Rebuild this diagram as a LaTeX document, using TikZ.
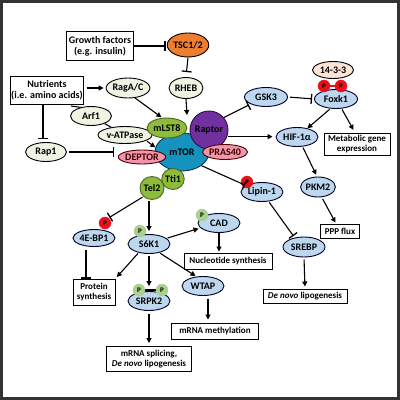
\documentclass[tikz,border=0pt]{standalone}
\usepackage{fontspec}
\setmainfont{Carlito}
\usetikzlibrary{shapes.geometric,arrows.meta}
\definecolor{lgreen}{HTML}{EEF3E2}
\definecolor{lblue}{HTML}{BDD7EE}
\definecolor{mgreen}{HTML}{8DBB3A}
\definecolor{dgreen}{HTML}{4F6228}
\definecolor{tsco}{HTML}{ED7D31}
\definecolor{rapt}{HTML}{7030A0}
\definecolor{mtorc}{HTML}{1592BE}
\definecolor{pinkc}{HTML}{F095AA}
\definecolor{peach}{HTML}{FCE4D6}
\definecolor{pred}{HTML}{E8101A}
\definecolor{pgreen}{HTML}{A9D18E}
\definecolor{framec}{HTML}{333333}
\begin{document}
\begin{tikzpicture}[x=1pt,y=-1pt,
  font=\bfseries\fontsize{10}{11}\selectfont,
  el/.style={ellipse,draw=black,line width=0.9pt,inner sep=0pt},
  lg/.style={el,fill=lgreen},
  bl/.style={el,fill=lblue,draw=black!85!blue},
  gr/.style={el,fill=mgreen,draw=dgreen},
  pk/.style={el,fill=pinkc,draw=black!70!red,text=black!75!red},
  box/.style={rectangle,draw=black,line width=1pt,fill=white,align=center,inner sep=1pt},
  pr/.style={circle,fill=pred,draw=pred,inner sep=0pt,minimum size=12pt,font=\bfseries\fontsize{7}{7}\selectfont},
  pg/.style={circle,fill=pgreen,draw=pgreen,inner sep=0pt,minimum size=12pt,font=\bfseries\fontsize{7}{7}\selectfont},
  ln/.style={line width=1.1pt,black},
  act/.style={ln,-{Triangle[length=5pt,width=5pt]}},
  inh/.style={ln,-{Bar[width=10pt,line width=1.3pt]}}
]
\useasboundingbox (0,0) rectangle (400,400);
\draw[framec,line width=2.5pt] (1.5,1.5) rectangle (398.5,398.5);

% top left
\node[box,minimum width=67pt,minimum height=29pt] (gf) at (100,46) {Growth factors\\(e.g. insulin)};
\node[el,fill=tsco,minimum width=40pt,minimum height=24pt] (tsc) at (188,45) {TSC1/2};
\node[lg,minimum width=34pt,minimum height=21pt] (rheb) at (186,88) {RHEB};
\node[lg,minimum width=40pt,minimum height=20pt] (raga) at (128,88) {RagA/C};
\node[box,minimum width=71pt,minimum height=28pt] (nut) at (47,90) {Nutrients\\(i.e. amino acids)};
\node[lg,minimum width=41pt,minimum height=19pt] (arf1) at (91,116) {Arf1};
\node[lg,minimum width=54pt,minimum height=17pt] (vatp) at (125,135) {v-ATPase};
\node[lg,minimum width=41pt,minimum height=19pt] (rap1) at (46,152) {Rap1};

% mTOR complex
\node[el,fill=mtorc,draw=black!60!mtorc,minimum width=54pt,minimum height=38pt] (mtor) at (182,152) {mTOR};
\node[gr,minimum width=40pt,minimum height=20pt] (mlst8) at (167,128) {mLST8};
\node[el,circle,fill=rapt,draw=black!60!rapt,minimum size=38pt] (raptor) at (209,130) {Raptor};
\node[pk,minimum width=42pt,minimum height=14pt] (deptor) at (142,157) {DEPTOR};
\node[pk,minimum width=40pt,minimum height=15pt] (pras) at (225,152) {PRAS40};
\node[gr,minimum width=22pt,minimum height=21pt] (tti1) at (173,179) {Tti1};
\node[gr,minimum width=24pt,minimum height=23pt] (tel2) at (152,188) {Tel2};

% right
\node[bl,minimum width=43pt,minimum height=19pt] (gsk3) at (266,97) {GSK3};
\node[bl,minimum width=43pt,minimum height=19pt] (foxk1) at (336,99) {Foxk1};
\node[el,fill=peach,minimum width=41pt,minimum height=17pt] (f1433) at (333,70) {14-3-3};
\draw[ln,pred] (324,86) -- (341,86);
\node[pr] (pf1) at (324,86) {P};
\node[pr] (pf2) at (341,86) {P};
\node[bl,minimum width=42pt,minimum height=19pt] (hif) at (297,137) {HIF-1α};
\node[box,minimum width=66pt,minimum height=22pt,font=\bfseries\fontsize{9}{9.5}\selectfont] (meta) at (357,144) {Metabolic gene\\expression};
\node[bl,minimum width=34pt,minimum height=20pt] (pkm2) at (318,187) {PKM2};
\node[box,minimum width=39pt,minimum height=14pt,font=\bfseries\fontsize{9}{9.5}\selectfont] (ppp) at (340,231) {PPP flux};
\node[bl,minimum width=42pt,minimum height=19pt] (lipin) at (262,192) {Lipin-1};
\node[pr] (plip) at (247,182) {P};
\node[bl,minimum width=42pt,minimum height=20pt] (srebp) at (304,247) {SREBP};
\node[box,minimum width=84pt,minimum height=14pt,font=\bfseries\fontsize{9}{9.5}\selectfont] (denovo) at (305,296) {\textit{De novo} lipogenesis};

% bottom
\node[bl,minimum width=42pt,minimum height=17pt] (ebp) at (94,238) {4E-BP1};
\node[pr] (pebp) at (105,223) {P};
\node[box,minimum width=42pt,minimum height=26pt,font=\bfseries\fontsize{9}{10}\selectfont] (prot) at (94,292) {Protein\\synthesis};
\node[bl,minimum width=42pt,minimum height=19pt] (s6k1) at (149,244) {S6K1};
\node[pg] (ps6) at (140,231) {P};
\node[bl,minimum width=42pt,minimum height=19pt] (cad) at (219,223) {CAD};
\node[pg] (pcad) at (202,215) {P};
\node[box,minimum width=88pt,minimum height=16pt,font=\bfseries\fontsize{9}{9.5}\selectfont] (nuc) at (228,261) {Nucleotide synthesis};
\node[bl,minimum width=42pt,minimum height=19pt] (srpk2) at (149,301) {SRPK2};
\draw[ln] (139,290) -- (163,290);
\node[pg] (psr1) at (139,290) {P};
\node[pg] (psr2) at (162,290) {P};
\node[bl,minimum width=42pt,minimum height=19pt] (wtap) at (203,286) {WTAP};
\node[box,minimum width=85pt,minimum height=25pt,font=\bfseries\fontsize{9}{10}\selectfont] (splice) at (149,359) {mRNA splicing,\\\textit{De novo} lipogenesis};
\node[box,minimum width=87pt,minimum height=16pt,font=\bfseries\fontsize{9}{9.5}\selectfont] (meth) at (215,331) {mRNA methylation};

% connectors
\draw[inh,shorten >=1pt] (gf.east) -- (gf.east -| tsc.west);
\draw[inh,shorten >=5pt] (tsc.south) -- (rheb.north);
\coordinate (rhebtip) at (187,115);
\draw[act] (rheb.south) -- (rhebtip);
\draw[act,shorten <=3pt,shorten >=2pt] (nut.east |- raga.west) -- (raga.west);
\draw[act,shorten >=1pt] (raga.-55) -- (mlst8.115);
\draw[inh,shorten >=1pt] ([xshift=-4pt]nut.south) -- ([xshift=-3pt,yshift=2pt]rap1.north);
\draw[inh,shorten <=2pt,shorten >=4pt] (rap1.east) -- (rap1.east -| deptor.west);
\draw[ln] (arf1) -- (vatp);
\coordinate (arfstub) at (71,106);
\draw[ln] (arfstub) -- (arf1.140);
\draw[act,shorten <=1pt] (vatp.-15) -- (mtor.170);
\draw[inh,shorten >=2pt] (raptor.40) -- (gsk3.205);
\draw[inh,shorten <=2pt,shorten >=2pt] (gsk3.east) -- (foxk1.west);
\draw[act,shorten <=1pt] (foxk1.-120) -- (hif.40);
\draw[act,shorten <=1pt,shorten >=3pt] (foxk1.-60) -- ([xshift=-2pt]meta.north);
\draw[act,shorten <=1pt,shorten >=3pt] (raptor.-20) -- (raptor.-20 -| hif.west);
\draw[act,shorten <=1pt,shorten >=2pt] (hif.-60) -- (pkm2.95);
\draw[act,shorten <=2pt,shorten >=1pt] (pkm2.-70) -- ([xshift=-4pt]ppp.north);
\draw[inh,shorten >=1pt] (mtor.-35) -- (lipin.158);
\draw[inh,shorten <=1pt,shorten >=2pt] (lipin.-55) -- (srebp.135);
\draw[act,shorten <=2pt,shorten >=2pt] (srebp.south) -- (denovo.north);
\draw[inh,shorten <=1pt,shorten >=1pt] (tel2.-135) -- (pebp.55);
\draw[inh,shorten <=3pt] ([xshift=-8pt]ebp.south) -- ([xshift=-8pt]prot.north);
\draw[act,shorten <=1pt,shorten >=3pt] (tel2.south -| s6k1.north) -- (s6k1.north);
\draw[act,shorten <=1pt,shorten >=2pt] (s6k1.18) -- (cad.195);
\draw[act,shorten >=1pt] (cad.south) -- (cad.south |- nuc.north);
\draw[act,shorten <=1pt,shorten >=2pt] (s6k1.-140) -- (prot.north east);
\draw[act,shorten <=2pt,shorten >=5pt] (s6k1.south) -- (srpk2.north);
\draw[act,shorten <=1pt,shorten >=1pt] (s6k1.-40) -- (wtap.125);
\draw[act,shorten <=3pt,shorten >=3pt] (srpk2.south) -- (splice.north);
\draw[act,shorten <=3pt,shorten >=3pt] ([xshift=5pt]wtap.south) -- ([xshift=5pt]wtap.south |- meth.north);
\end{tikzpicture}
\end{document}
